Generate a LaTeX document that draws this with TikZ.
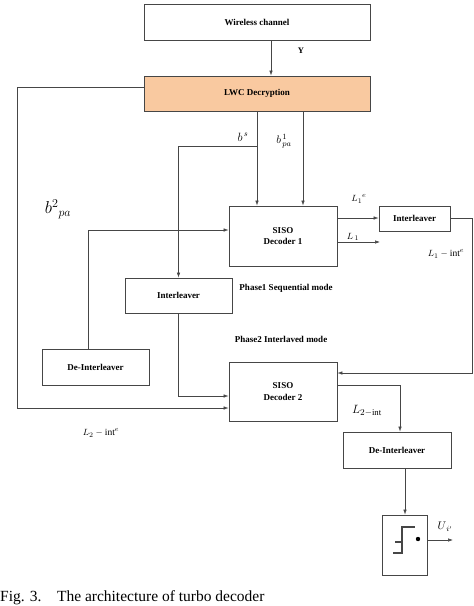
\documentclass[tikz,border=0pt]{standalone}
\usepackage{amsmath}
\usepackage{fontspec}
\setmainfont{Liberation Serif}
\usetikzlibrary{arrows.meta,positioning}
\definecolor{lwcfill}{RGB}{249,201,160}
\definecolor{linegray}{RGB}{70,70,70}
\tikzset{
  blk/.style={draw=linegray,line width=0.8pt,minimum width=#1,inner sep=1pt,align=center,font=\fontsize{9}{10.5}\selectfont\bfseries},
  blk/.default=107pt,
  lbl/.style={inner sep=0pt,font=\fontsize{9.5}{10}\selectfont},
  wire/.style={draw=linegray,line width=0.6pt}
}
\begin{document}
\begin{tikzpicture}[x=1pt,y=-1pt,>={Latex[length=5pt,width=3.5pt]}]
\useasboundingbox (0,0) rectangle (474,606);
% boxes
\node[blk=226pt,minimum height=36pt] (wch) at (257,22) {Wireless channel};
\node[blk=226pt,minimum height=35pt,fill=lwcfill] (lwc) at (257,93.5) {LWC Decryption};
\node[blk=108pt,minimum height=60pt] (siso1) at (283,236) {SISO\\[1pt]Decoder 1};
\node[blk=71pt,minimum height=25pt] (intR) at (414.5,218.5) {Interleaver};
\node[blk,minimum height=35pt] (intM) at (178.5,295.5) {Interleaver};
\node[blk,minimum height=36pt] (deintL) at (95.5,367) {De-Interleaver};
\node[blk=108pt,minimum height=59pt] (siso2) at (283,391.5) {SISO\\[1pt]Decoder 2};
\node[blk=108pt,minimum height=36pt] (deintR) at (397,450) {De-Interleaver};
\node[draw=linegray,line width=0.8pt,minimum width=45pt,minimum height=60pt] (lim) at (404.5,545) {};
% hard limiter symbol
\draw[linegray,line width=1.4pt] (393,553) -- (402,553) -- (402,527) -- (415,527);
\draw[linegray,line width=1.4pt] (395,542) -- (402,542);
\fill[black] (418,539) circle (2.2);
\coordinate (l1out) at (380,242);
\coordinate (uout) at (453,540);
% connectors
\draw[wire,->] ([xshift=14pt]wch.south) -- ([xshift=14pt]lwc.north);
\draw[wire,->] (lwc.west |- 0,87) -- (17,87) -- (17,408) -- (siso2.west |- 0,408);
\draw[wire,->] (lwc.south -| 257,0) -- (siso1.north -| 257,0);
\draw[wire,->] (257,146) -| (intM.north);
\draw[wire,->] (lwc.south -| 303,0) -- (siso1.north -| 303,0);
\draw[wire,->] (deintL.north -| 88,0) |- (siso1.west |- 0,230);
\draw[wire,->] (siso1.east |- 0,218) -- (intR.west |- 0,218);
\draw[wire,->] (siso1.east |- 0,242) -- (l1out);
\draw[wire,->] (intR.east) -- (472,218.5) |- (siso2.east |- 0,373);
\draw[wire,->] (intM.south) |- (siso2.west |- 0,396);
\draw[wire,->] (siso2.east |- 0,385) -| (deintR.north -| 400,0);
\draw[wire,->] (deintR.south -| 405,0) -- (lim.north -| 405,0);
\draw[wire,->] (lim.east |- uout) -- (uout);
% labels
\node[lbl,font=\fontsize{8.5}{9}\selectfont\bfseries] (ylab) at (301,51) {Y};
\node[lbl,font=\fontsize{12}{13}\selectfont] (bs) at (243,137) {$b^{\,s}$};
\node[lbl,font=\fontsize{11}{12}\selectfont] (bpa1) at (284,141) {$b^{\,1}_{\,pa}$};
\node[lbl,font=\fontsize{17}{18}\selectfont] (bpa2) at (58,209) {$b^2{}_{pa}$};
\node[lbl] (l1e) at (359,199) {$L_1{}^{e}$};
\node[lbl] (l1) at (353,237) {$L_{\,1}$};
\node[lbl] (l1int) at (446,254) {$L_1-\mathrm{int}^e$};
\node[lbl,font=\fontsize{9}{10}\selectfont\bfseries] (ph1) at (286,288) {Phase1 Sequential mode};
\node[lbl,font=\fontsize{9}{10}\selectfont\bfseries] (ph2) at (281,339) {Phase2 Interlaved mode};
\node[lbl,font=\fontsize{12.5}{13}\selectfont] (l2int) at (367,411) {$L_{2-\mathrm{int}}$};
\node[lbl] (l2inte) at (101,433) {$L_2-\mathrm{int}^e$};
\node[lbl,font=\fontsize{11}{12}\selectfont] (ulab) at (445,527) {$U_{\,i'}$};
\node[lbl,anchor=base west,font=\fontsize{15.5}{17}\selectfont] (cap) at (0,601) {Fig. 3.\quad The architecture of turbo decoder};
\end{tikzpicture}
\end{document}
